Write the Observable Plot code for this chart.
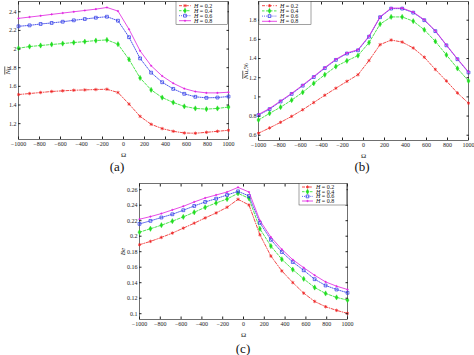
<!DOCTYPE html>
<html><head><meta charset="utf-8">
<script src="https://cdn.jsdelivr.net/npm/d3@7"></script>
<script src="https://cdn.jsdelivr.net/npm/@observablehq/plot@0.6"></script>
<style>
body{margin:0;background:#fff;}
#wrap{position:relative;width:474px;height:355px;overflow:hidden;font-family:"Liberation Serif","DejaVu Serif",serif;background:#fff;}
.p{position:absolute;}
.tag{position:absolute;font-size:13px;transform:translate(-50%,-50%);color:#111;}
#ov{position:absolute;left:0;top:0;pointer-events:none;}
</style></head><body><div id="wrap"></div>
<script>
// ---- data ----
const omega = [-1000, -894.7, -789.5, -684.2, -578.9, -473.7, -368.4, -263.2, -157.9, -52.6, 52.6, 157.9, 263.2, 368.4, 473.7, 578.9, 684.2, 789.5, 894.7, 1000];
const hValues = ["0.2", "0.4", "0.6", "0.8"];
const xTicks = [-1000, -800, -600, -400, -200, 0, 200, 400, 600, 800, 1000];

const aH02 = [1.512,1.523,1.534,1.545,1.552,1.558,1.562,1.566,1.569,1.534,1.41,1.278,1.193,1.147,1.118,1.10,1.097,1.107,1.118,1.129];
const aH04 = [2.009,2.027,2.038,2.049,2.059,2.07,2.08,2.091,2.098,2.052,1.889,1.69,1.562,1.48,1.427,1.385,1.363,1.356,1.363,1.378];
const aH06 = [2.244,2.254,2.269,2.28,2.293,2.308,2.322,2.336,2.347,2.304,2.127,1.9,1.747,1.644,1.573,1.52,1.488,1.477,1.48,1.491];
const aH08 = [2.329,2.343,2.357,2.372,2.386,2.4,2.414,2.428,2.446,2.407,2.212,1.981,1.821,1.711,1.633,1.576,1.544,1.53,1.53,1.537];
const aYTicks = [1.2, 1.4, 1.6, 1.8, 2, 2.2, 2.4];

const bH02 = [0.621,0.676,0.735,0.797,0.866,0.941,1.017,1.09,1.162,1.231,1.379,1.545,1.593,1.572,1.51,1.414,1.286,1.166,1.041,0.934];
const bH04 = [0.759,0.828,0.893,0.966,1.048,1.141,1.231,1.317,1.376,1.431,1.566,1.759,1.834,1.834,1.79,1.7,1.579,1.438,1.297,1.166];
const bH06 = [0.81,0.872,0.952,1.031,1.117,1.207,1.3,1.386,1.452,1.486,1.628,1.831,1.921,1.921,1.879,1.8,1.686,1.538,1.393,1.255];
const bH08 = [0.817,0.879,0.958,1.037,1.123,1.213,1.306,1.392,1.458,1.492,1.634,1.836,1.926,1.926,1.884,1.805,1.69,1.542,1.397,1.26];
const bYTicks = [0.6, 0.8, 1, 1.2, 1.4, 1.6, 1.8];

const cH02 = [0.189,0.1933,0.1984,0.204,0.2104,0.2168,0.2236,0.23,0.2373,0.2476,0.2403,0.2018,0.1744,0.1552,0.1402,0.1265,0.1158,0.109,0.1043,0.1004];
const cH04 = [0.2052,0.2096,0.2142,0.2194,0.2249,0.2309,0.2373,0.2429,0.248,0.2553,0.2489,0.2095,0.1873,0.1702,0.1569,0.1449,0.1338,0.1261,0.121,0.1175];
const cH06 = [0.2159,0.2198,0.2241,0.2283,0.2335,0.239,0.2442,0.2484,0.2532,0.2579,0.2519,0.2172,0.1954,0.1796,0.1667,0.156,0.1445,0.1364,0.1312,0.127];
const cH08 = [0.2219,0.2253,0.2292,0.2339,0.2386,0.2442,0.2493,0.2532,0.257,0.263,0.257,0.2202,0.1988,0.183,0.1697,0.1594,0.1496,0.141,0.1355,0.1312];
const cYTicks = [0.1, 0.12, 0.14, 0.16, 0.18, 0.2, 0.22, 0.24, 0.26];

// ---- styles ----
const styles = [
  {color: "#ee1c1c", dash: "3,1.5,0.8,1.5", symbol: "asterisk", r: 1.6, fill: false},
  {color: "#22dd22", dash: "2.5,1.5", symbol: "diamond", r: 1.6, fill: true},
  {color: "#2430e6", dash: "0.9,1.2", symbol: "square2", r: 1.8, fill: false},
  {color: "#e020e0", dash: null, symbol: "circle", r: 0.8, fill: true}
];
const fmtX = d => (d < 0 ? "\u2212" : "") + Math.abs(d);

function panel(cfg) {
  const marks = [Plot.frame({stroke: "#333", strokeWidth: 0.7})];
  cfg.series.forEach((vals, si) => {
    const st = styles[si];
    const data = vals.map((v, i) => ({x: omega[i], y: v}));
    marks.push(Plot.line(data, {x: "x", y: "y", stroke: st.color, strokeWidth: 0.8, strokeDasharray: st.dash || undefined}));
    marks.push(Plot.dot(data, st.fill
      ? {x: "x", y: "y", symbol: () => st.symbol, r: st.r, fill: st.color, stroke: st.color, strokeWidth: 0.4}
      : {x: "x", y: "y", symbol: () => st.symbol, r: st.r, stroke: st.color, fill: "none", strokeWidth: 0.7}));
  });
  marks.push(
    Plot.axisX({anchor: "bottom", ticks: xTicks, tickSize: -2.5, tickPadding: 5, tickFormat: fmtX, label: "\u03A9", labelAnchor: "center", labelOffset: 17, labelArrow: "none"}),
    Plot.axisX({anchor: "top", ticks: xTicks, tickSize: -2.5, tickFormat: () => "", label: null}),
    Plot.axisY({anchor: "left", ticks: cfg.yTicks, tickSize: -2.5, tickPadding: 4.5, tickFormat: d => String(d), label: cfg.yLabel, labelAnchor: "center", labelOffset: cfg.labelOffset, labelArrow: "none"}),
    Plot.axisY({anchor: "right", ticks: cfg.yTicks, tickSize: -2.5, tickFormat: () => "", label: null})
  );
  const svg = Plot.plot({
    width: cfg.width, height: cfg.height,
    marginLeft: cfg.ml, marginRight: cfg.mr, marginTop: cfg.mt, marginBottom: cfg.mb,
    x: {domain: [-1000, 1000]},
    y: {domain: cfg.yDomain},
    style: {fontFamily: "'Liberation Serif','DejaVu Serif',serif", fontSize: "6px", background: "transparent", color: "#222", overflow: "visible"},
    marks
  });
  svg.classList.add("p");
  svg.style.left = cfg.left + "px";
  svg.style.top = cfg.top + "px";
  svg.querySelectorAll("text").forEach(t => {
    if (t.textContent === cfg.yLabel) {
      t.style.fontSize = "7px";
      if (cfg.overline) {
        t.textContent = "";
        const ns = "http://www.w3.org/2000/svg";
        const a = document.createElementNS(ns, "tspan");
        a.textContent = "Nu"; a.setAttribute("font-style", "italic");
        a.setAttribute("text-decoration", "overline");
        a.style.textDecoration = "overline";
        t.appendChild(a);
        if (cfg.suffix) { const b = document.createElementNS(ns, "tspan"); b.textContent = cfg.suffix; t.appendChild(b); }
      } else {
        t.setAttribute("font-style", "italic");
      }
    }
    if (t.textContent === "\u03A9") t.style.fontSize = "7px";
  });
  return svg;
}

const wrap = document.getElementById("wrap");
wrap.appendChild(panel({series: [aH02, aH04, aH06, aH08], yDomain: [1.03, 2.51], yTicks: aYTicks, yLabel: "Nu", overline: true,
  left: 0, top: 0, width: 234, height: 160, ml: 18, mr: 6, mt: 1, mb: 21, labelOffset: 13}));
wrap.appendChild(panel({series: [bH02, bH04, bH06, bH08], yDomain: [0.545, 1.995], yTicks: bYTicks, yLabel: "Nu,%", overline: true, suffix: ",%",
  left: 236, top: 0, width: 236, height: 161, ml: 22, mr: 4, mt: 1, mb: 21, labelOffset: 15}));
wrap.appendChild(panel({series: [cH02, cH04, cH06, cH08], yDomain: [0.0925, 0.268], yTicks: cYTicks, yLabel: "Be",
  left: 115, top: 180, width: 240, height: 160, ml: 24, mr: 8, mt: 3, mb: 21, labelOffset: 19}));

// panel tags
[["(a)", 117, 167], ["(b)", 362, 167], ["(c)", 243, 349]].forEach(([t, x, y]) => {
  const d = document.createElement("div"); d.className = "tag"; d.textContent = t;
  d.style.left = x + "px"; d.style.top = y + "px"; wrap.appendChild(d);
});

// legends
const ov = d3.select(wrap).append("svg").attr("id", "ov").attr("width", 474).attr("height", 355);
function legend(x0, y0, w, h, lx0, lx1, tx, rows) {
  ov.append("rect").attr("x", x0).attr("y", y0).attr("width", w).attr("height", h)
    .attr("fill", "#fff").attr("stroke", "#444").attr("stroke-width", 0.5);
  hValues.forEach((hv, i) => {
    const st = styles[i], y = rows[i];
    ov.append("line").attr("x1", lx0).attr("x2", lx1).attr("y1", y).attr("y2", y)
      .attr("stroke", st.color).attr("stroke-width", 0.8).attr("stroke-dasharray", st.dash);
    const symMap = {asterisk: d3.symbolAsterisk, diamond: d3.symbolDiamond, square2: d3.symbolSquare2, circle: d3.symbolCircle};
    ov.append("path").attr("transform", `translate(${(lx0 + lx1) / 2},${y})`)
      .attr("d", d3.symbol(symMap[st.symbol], st.r * st.r * Math.PI)())
      .attr("fill", st.fill ? st.color : "none").attr("stroke", st.color).attr("stroke-width", st.fill ? 0.4 : 0.7);
    const t = ov.append("text").attr("x", tx).attr("y", y).attr("dy", "0.34em")
      .attr("font-size", 6).attr("font-family", "'Liberation Serif',serif").attr("fill", "#111");
    t.append("tspan").attr("font-style", "italic").text("H");
    t.append("tspan").text(" = " + hv);
  });
}
legend(176, 1.5, 51.5, 23, 179, 191, 194, [5.7, 10.7, 15.7, 20.7]);
legend(259, 1.5, 52, 23, 262, 277, 280, [5.7, 10.9, 16.1, 21.3]);
legend(299, 183.5, 47.5, 21.5, 302, 313, 316, [187, 191.7, 196.4, 201]);
</script></body></html>
